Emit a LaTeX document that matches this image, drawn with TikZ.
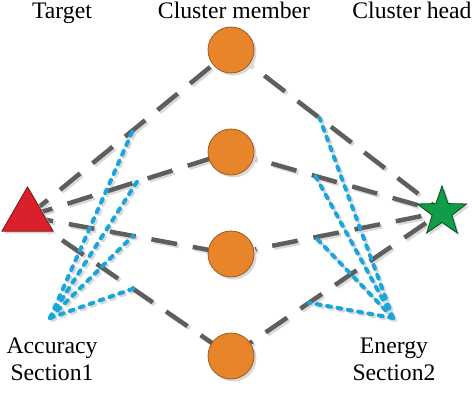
\documentclass[tikz,border=0pt]{standalone}
\usepackage{fontspec}
\setmainfont{Liberation Serif}
\usetikzlibrary{shapes.geometric,shadows,calc}
\definecolor{memberfill}{HTML}{E8852A}
\definecolor{memberline}{HTML}{9C5B20}
\definecolor{targetfill}{HTML}{D9202B}
\definecolor{targetline}{HTML}{7A1515}
\definecolor{headfill}{HTML}{109C48}
\definecolor{headline}{HTML}{0A4A22}
\definecolor{link}{HTML}{5E5E5E}
\definecolor{section}{HTML}{18A6DD}
\definecolor{shade}{HTML}{D9D9D9}
\pgfdeclarelayer{background}
\pgfsetlayers{background,main}

\begin{document}
\begin{tikzpicture}[
  x=1pt,
  y=-1pt,
  nodeshadow/.style={
    drop shadow={shadow xshift=2.5pt,shadow yshift=-2.5pt,fill=shade,opacity=1}
  },
  member/.style={
    circle,minimum size=46pt,inner sep=0pt,line width=0.8pt,
    draw=memberline,fill=memberfill,nodeshadow
  },
  target/.style={
    regular polygon,regular polygon sides=3,minimum size=59pt,inner sep=0pt,
    line width=0.8pt,draw=targetline,fill=targetfill,nodeshadow
  },
  head/.style={
    star,star points=5,star point ratio=2.5,minimum size=52pt,inner sep=0pt,
    line width=0.8pt,draw=headline,fill=headfill,nodeshadow
  },
  hop/.style={
    line width=4.5pt,draw=link,dash pattern=on 26pt off 16pt
  },
  reach/.style={
    line width=4pt,draw=section,line cap=round,dash pattern=on 4pt off 6.5pt
  },
  hopshade/.style={hop,draw=shade},
  reachshade/.style={reach,draw=shade},
  caption/.style={font=\fontsize{23.7}{27}\selectfont,align=center,anchor=base,inner sep=0pt}
]
  \useasboundingbox (0,0) rectangle (474,415);

  \node[caption] (cap-target) at (62,18) {Target};
  \node[caption] (cap-member) at (234,18) {Cluster member};
  \node[caption] (cap-head) at (412,18) {Cluster head};
  \node[caption] (cap-acc) at (52,380) {Accuracy\\Section1};
  \node[caption] (cap-en) at (394,380) {Energy\\Section2};

  \node[target] (tgt) at (27.5,216.4) {};
  \node[head] (ch) at (442,212) {};
  \foreach \i/\y in {1/50,2/152,3/254,4/356}
    \node[member] (m\i) at (231,\y) {};

  \coordinate (acc) at (50,318);
  \coordinate (en) at (393,318);

  \begin{pgfonlayer}{background}
    % light copies for the shadow
    \begin{scope}[transform canvas={xshift=2pt,yshift=-2pt}]
      \foreach \i in {1,...,4} {
        \draw[hopshade] (tgt.center) -- (m\i.center);
        \draw[hopshade] (m\i.center) -- (ch.center);
      }
      \foreach \i/\f in {1/0.518,2/0.538,3/0.518,4/0.518}
        \draw[reachshade] (acc) -- ($(tgt.center)!\f!(m\i.center)$);
      \foreach \i/\f in {1/0.42,2/0.40,3/0.40,4/0.37}
        \draw[reachshade] (en) -- ($(m\i.center)!\f!(ch.center)$);
    \end{scope}
    \foreach \i in {1,...,4} {
      \draw[hop] (tgt.center) -- (m\i.center);
      \draw[hop] (m\i.center) -- (ch.center);
    }
    \foreach \i/\f in {1/0.518,2/0.538,3/0.518,4/0.518}
      \draw[reach] (acc) -- ($(tgt.center)!\f!(m\i.center)$);
    \foreach \i/\f in {1/0.42,2/0.40,3/0.40,4/0.37}
      \draw[reach] (en) -- ($(m\i.center)!\f!(ch.center)$);
  \end{pgfonlayer}
\end{tikzpicture}
\end{document}
